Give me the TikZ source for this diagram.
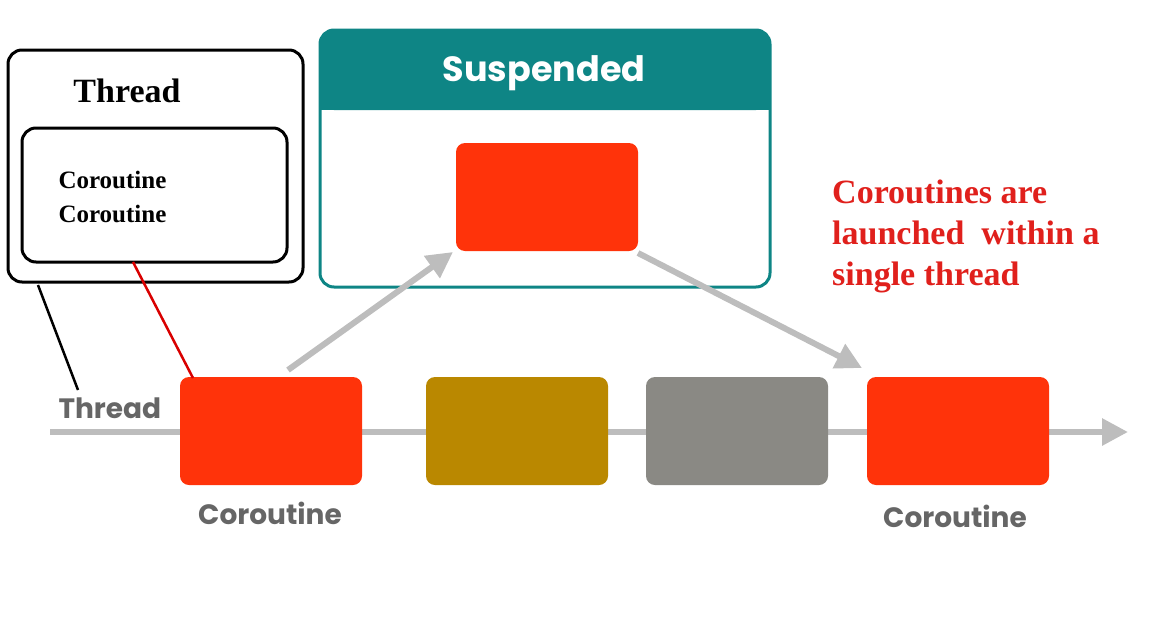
\documentclass[tikz,border=0pt]{standalone}
\usepackage{fontspec}
\setmainfont{Liberation Serif}
\newfontfamily\pop{Poppins}
\usetikzlibrary{arrows.meta}
\definecolor{cred}{HTML}{FF330A}
\definecolor{cgold}{HTML}{BA8800}
\definecolor{cgray}{HTML}{8A8984}
\definecolor{cteal}{HTML}{0E8585}
\definecolor{cline}{HTML}{BDBDBD}
\definecolor{ctxt}{HTML}{E0201C}
\begin{document}
\begin{tikzpicture}[x=1pt,y=-1pt,
  blk/.style={draw=black,line width=3pt,rounded corners=14pt},
  co/.style={rounded corners=9pt,minimum width=182pt,minimum height=108pt,inner sep=0pt},
  garr/.style={draw=cline,line width=6pt,-{Triangle[length=26pt,width=26pt]}},
  lab/.style={text=gray!80!black,font=\pop\bfseries\fontsize{28}{32}\selectfont}]
\useasboundingbox (0,0) rectangle (1170,632);
% thread line
\coordinate (ts) at (50,432);
\coordinate (te) at (1128,432);
\draw[garr] (ts) -- (te);
\node[lab,anchor=west] (thl) at (55,408) {Thread};
% coroutines
\node[co,fill=cred] (c1) at (271,431) {};
\node[co,fill=cgold] (c2) at (517,431) {};
\node[co,fill=cgray] (c3) at (737,431) {};
\node[co,fill=cred] (c4) at (958,431) {};
\node[lab] (l1) at (270,513) {Coroutine};
\node[lab] (l4) at (955,516) {Coroutine};
% suspended
\draw[cteal,line width=3pt,rounded corners=14pt] (320,30) rectangle (770,287);
\fill[cteal,rounded corners=14pt] (320,30) rectangle (770,110);
\fill[cteal] (320,90) rectangle (770,110);
\node[text=white,font=\pop\bfseries\fontsize{35}{40}\selectfont] (sus) at (544,73) {Suspended};
\node[co,fill=cred] (cs) at (547,197) {};
\coordinate (a1s) at (288,370);
\coordinate (a1e) at (453,252);
\coordinate (a2s) at (638,253);
\coordinate (a2e) at (862,368);
\draw[garr] (a1s) -- (a1e);
\draw[garr] (a2s) -- (a2e);
% left box
\draw[blk] (8,50) rectangle (303,282);
\node[font=\bfseries\fontsize{34}{40}\selectfont] (th) at (127,91) {Thread};
\draw[blk] (22,128) rectangle (287,262);
\node[font=\bfseries\fontsize{25}{34}\selectfont,anchor=west,align=left] (cc) at (55,197) {Coroutine\\Coroutine};
\coordinate (b1) at (38,285);
\coordinate (b2) at (78,390);
\draw[line width=2.5pt] (b1) -- (b2);
\coordinate (r1) at (133,262);
\coordinate (r2) at (193,378);
\draw[red!85!black,line width=2.5pt] (r1) -- (r2);
\node[text=ctxt,font=\bfseries\fontsize{34}{41}\selectfont,anchor=north west,align=left,inner sep=0pt] (note) at (832,180) {Coroutines are\\launched~ within a\\single thread};
\end{tikzpicture}
\end{document}
